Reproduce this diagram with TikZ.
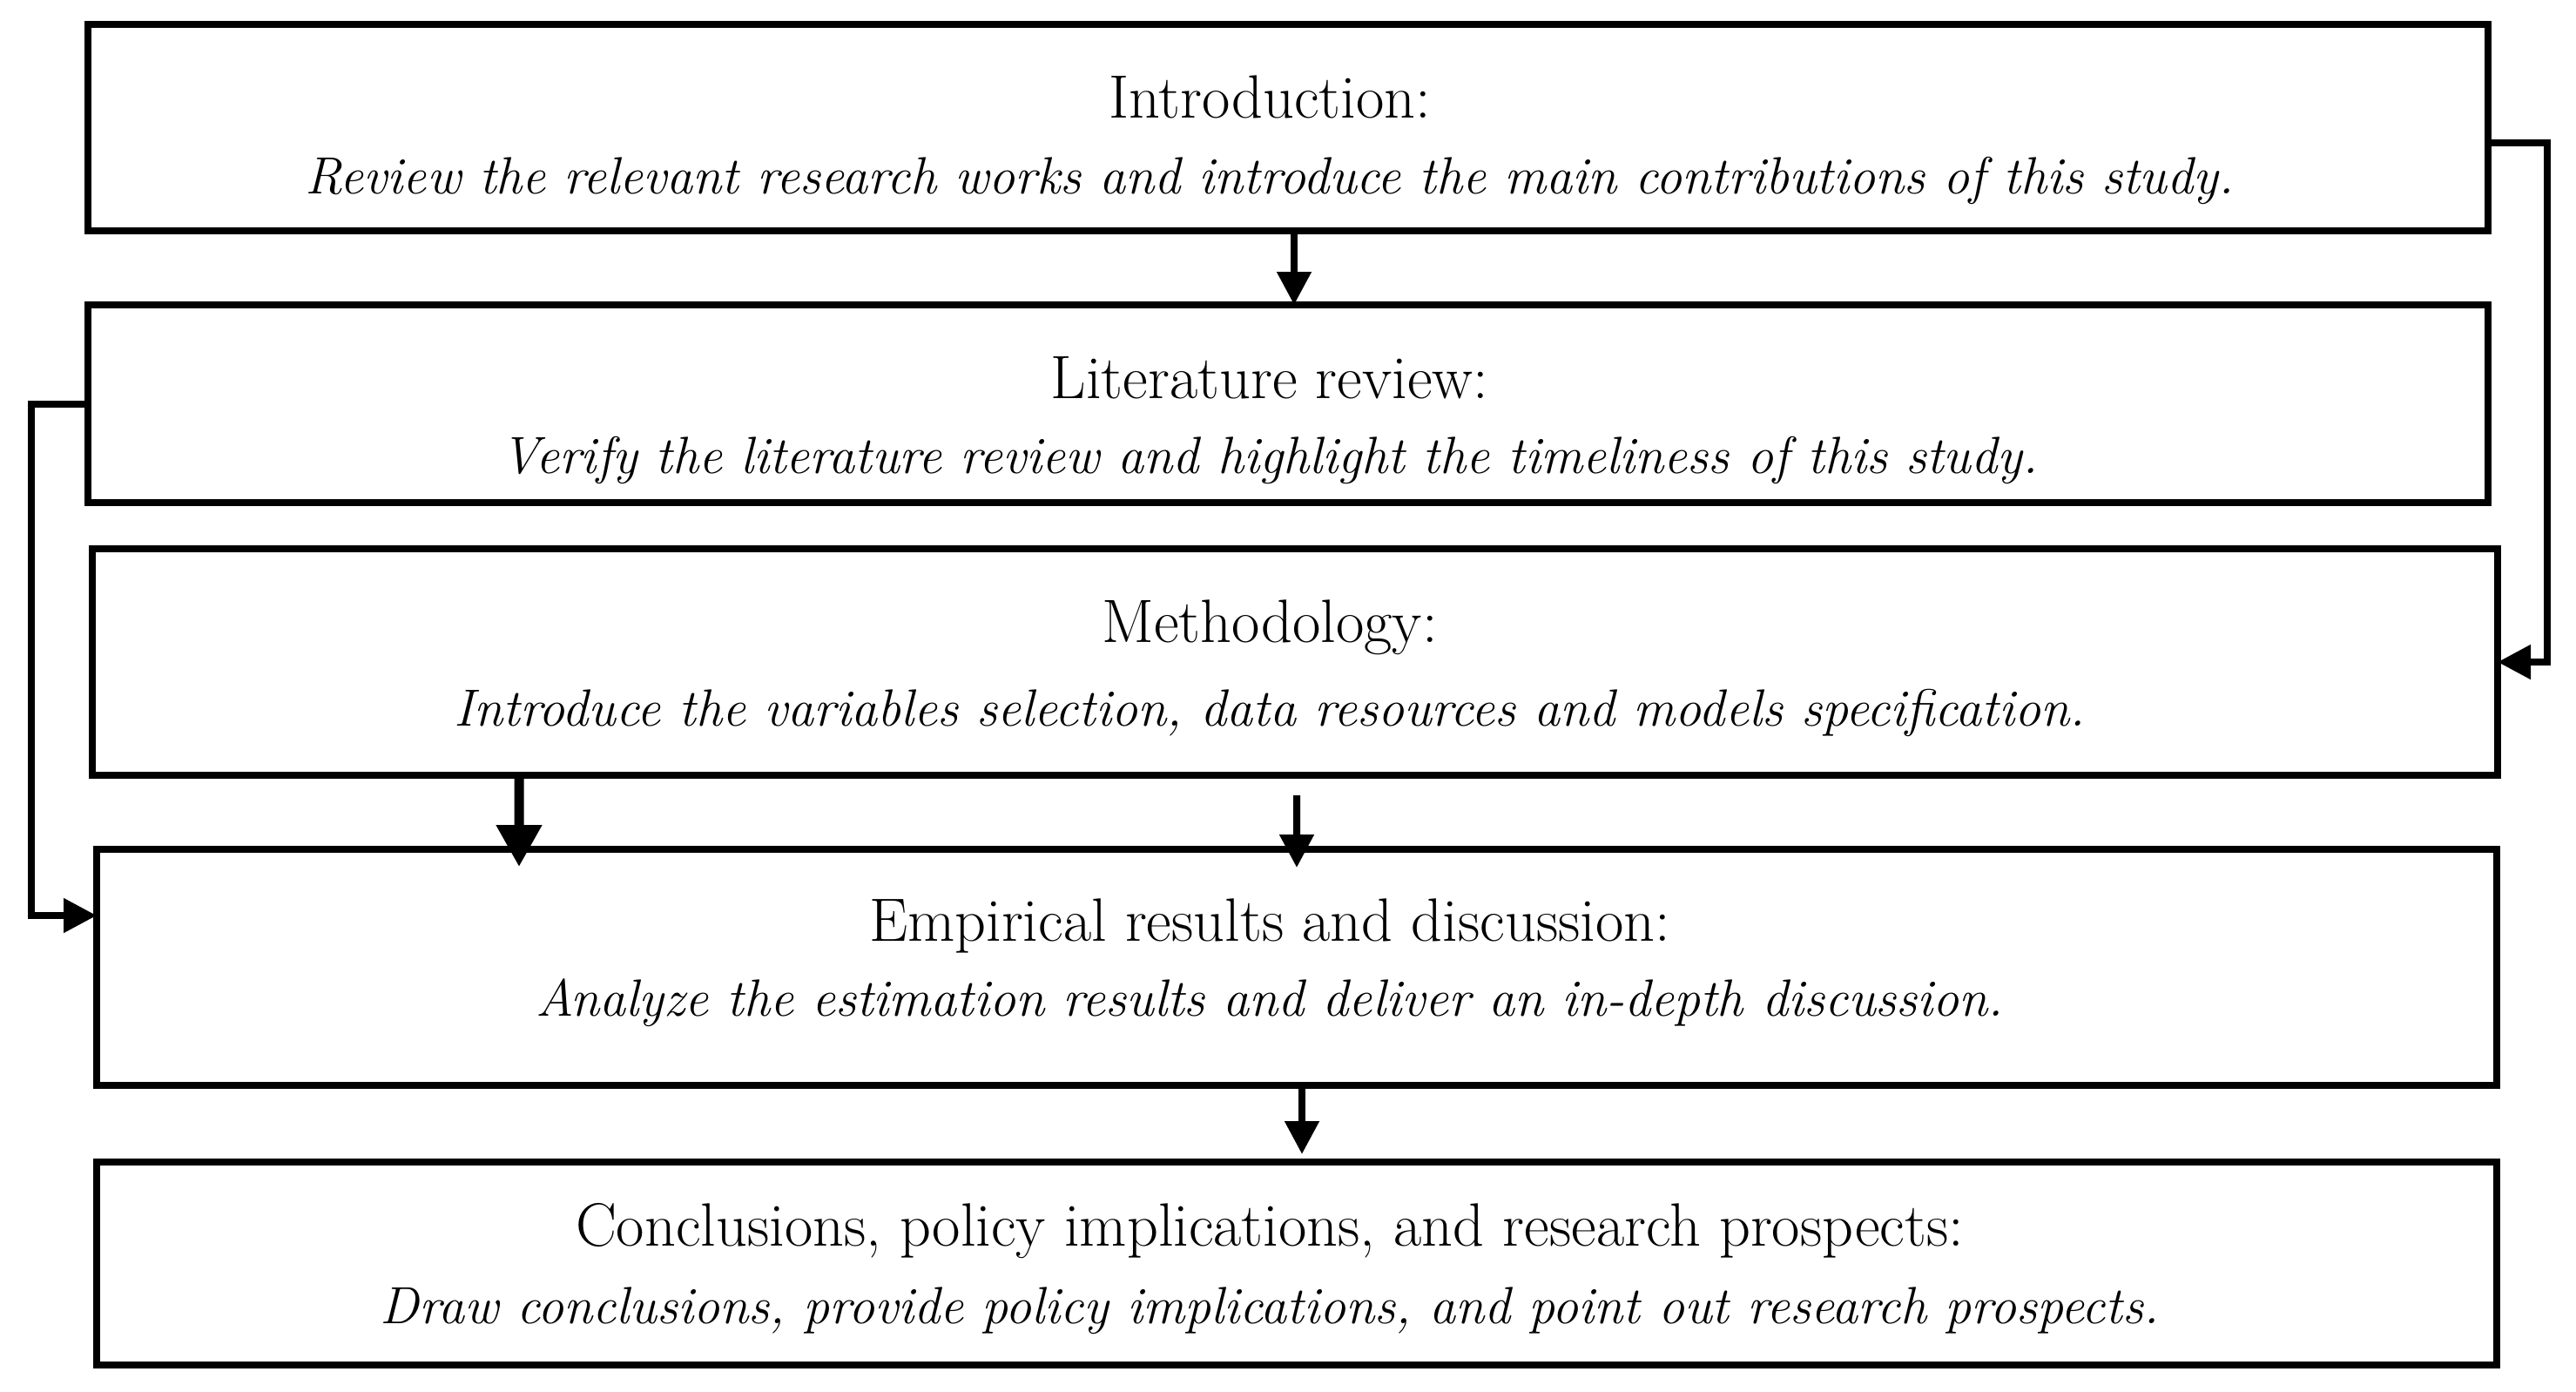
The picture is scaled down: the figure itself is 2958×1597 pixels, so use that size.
\documentclass[tikz,border=0pt]{standalone}
\usetikzlibrary{arrows.meta}

\begin{document}
\begin{tikzpicture}[x=0.1mm, y=-0.1mm,
    box/.style={draw, line width=0.8mm, inner sep=0pt, outer sep=0pt},
    ttl/.style={anchor=base, font=\fontsize{20}{22}\selectfont},
    dsc/.style={anchor=base, font=\fontsize{17.1}{19}\selectfont\itshape},
    arr/.style={line width=0.8mm, -{Triangle[length=3.8mm, width=3.8mm]}},
    bigarr/.style={line width=1.1mm, -{Triangle[length=4.8mm, width=5mm]}}]
    \useasboundingbox (0, 0) rectangle (2958, 1597);
    \node[box, minimum width=275.6mm, minimum height=23.7mm] (intro) at (1479, 146.5) {};
    \node[box, minimum width=275.6mm, minimum height=22.7mm] (lit) at (1479, 463.5) {};
    \node[box, minimum width=276.2mm, minimum height=26mm] (meth) at (1487, 760) {};
    \node[box, minimum width=275.6mm, minimum height=27.1mm] (emp) at (1489, 1110.5) {};
    \node[box, minimum width=275.6mm, minimum height=23.3mm] (conc) at (1489, 1450.5) {};

    \node[ttl] (introT) at (1458, 135) {Introduction:};
    \node[dsc] (introD) at (1458, 222) {Review the relevant research works and introduce the main contributions of this study.};
    \node[ttl] (litT) at (1458, 457) {Literature review:};
    \node[dsc] (litD) at (1458, 543) {Verify the literature review and highlight the timeliness of this study.};
    \node[ttl] (methT) at (1458, 737) {Methodology:};
    \node[dsc] (methD) at (1458, 833) {Introduce the variables selection, data resources and models specification.};
    \node[ttl] (empT) at (1458, 1080) {Empirical results and discussion:};
    \node[dsc] (empD) at (1458, 1166) {Analyze the estimation results and deliver an in-depth discussion.};
    \node[ttl] (concT) at (1458, 1430) {Conclusions, policy implications, and research prospects:};
    \node[dsc] (concD) at (1458, 1519) {Draw conclusions, provide policy implications, and point out research prospects.};

    \draw[arr] ([xshift=0.7mm]intro.south) -- ([xshift=0.7mm]lit.north);
    \draw[arr] ([xshift=0.2mm, yshift=-2.3mm]meth.south) -- ([yshift=-2.1mm]emp.north);
    \draw[bigarr] ([xshift=-89.1mm]meth.south) -- ([xshift=-89.3mm, yshift=-2mm]emp.north);
    \draw[arr] ([xshift=0.6mm]emp.south) -- ([xshift=0.6mm, yshift=0.9mm]conc.north);
    \draw[arr] (lit.west) -- ++(-65, 0) |- ([yshift=5.95mm]emp.west);
    \draw[arr] ([yshift=-1.75mm]intro.east) -- ++(68, 0) |- (meth.east);
\end{tikzpicture}
\end{document}
